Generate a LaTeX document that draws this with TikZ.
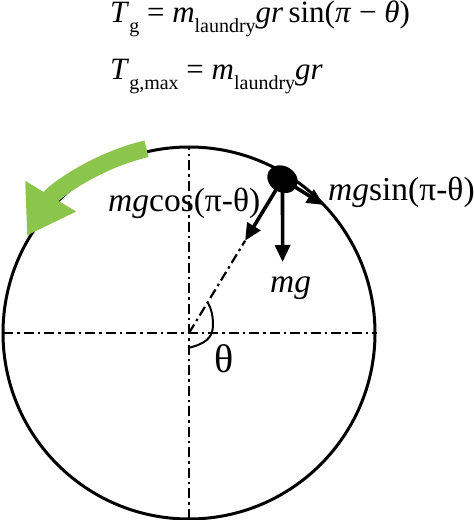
\documentclass[tikz,border=0pt]{standalone}
\usepackage{fontspec}
\setmainfont{Liberation Serif}
\usetikzlibrary{arrows.meta,shapes.geometric,calc}
\definecolor{spingreen}{RGB}{139,197,75}
\newcommand{\lsub}[1]{\raisebox{-0.3em}{\fontsize{20}{20}\selectfont #1}}
\begin{document}
\begin{tikzpicture}[x=1pt, y=1pt,
    force/.style={line width=3.6pt, -{Triangle[length=17pt,width=15pt]}},
    axisline/.style={line width=2.2pt, dash pattern=on 10pt off 4pt on 2.5pt off 4pt},
    lbl/.style={anchor=base west, inner sep=0pt, font=\fontsize{33.5}{33.5}\selectfont},
    eqn/.style={anchor=base west, inner sep=0pt, font=\fontsize{31}{31}\selectfont}]
    \useasboundingbox (0,0) rectangle (474,520);
    \coordinate (O) at (189,187);
    \draw[line width=3pt] (O) circle (186);
    \draw[axisline] (O) ++(-186,0) -- ++(374,0)
                    (O) ++(0,-186) -- ++(0,372);
    \draw[line width=17pt, spingreen, -{Triangle[length=46pt,width=56pt]}]
          (O) ++(103:189) arc[start angle=103, end angle=149, radius=189];
    \coordinate (cosend) at ($(O)+(58.7:108)$);
    \draw[axisline] (O) -- (cosend);
    \draw[line width=2pt] (188,172) .. controls (205,176) and (213,182) .. (213,195)
                          .. controls (213,205) and (211,212) .. (208,217);
    \node (mass) [ellipse, fill, rotate=-31, minimum width=32pt, minimum height=26pt,
                  inner sep=0pt] at ($(O)+(58.7:180)$) {};
    \coordinate (gend) at (282.6,258);
    \coordinate (sinend) at (324,315);
    \draw[force] (mass.center) -- (cosend);
    \draw[force] (mass.center) -- (gend);
    \draw[force] (mass.center) -- (sinend);
    \node[lbl] (cosl) at (108,308) {\textit{mg}cos(π-θ)};
    \node[lbl] (sinl) at (328,319) {\textit{mg}sin(π-θ)};
    \node[lbl] (gl) at (270,227) {\textit{mg}};
    \node[anchor=base west, inner sep=0pt, font=\fontsize{40}{40}\selectfont] (thetal) at (214,147) {θ};
    \node[eqn] (eqone) at (110,497)
        {\textit{T}\lsub{g} = \textit{m}\lsub{laundry}\textit{gr}\,sin(\textit{π} − \textit{θ})};
    \node[eqn] (eqtwo) at (110,440)
        {\textit{T}\lsub{g,max} = \textit{m}\lsub{laundry}\textit{gr}};
\end{tikzpicture}
\end{document}
